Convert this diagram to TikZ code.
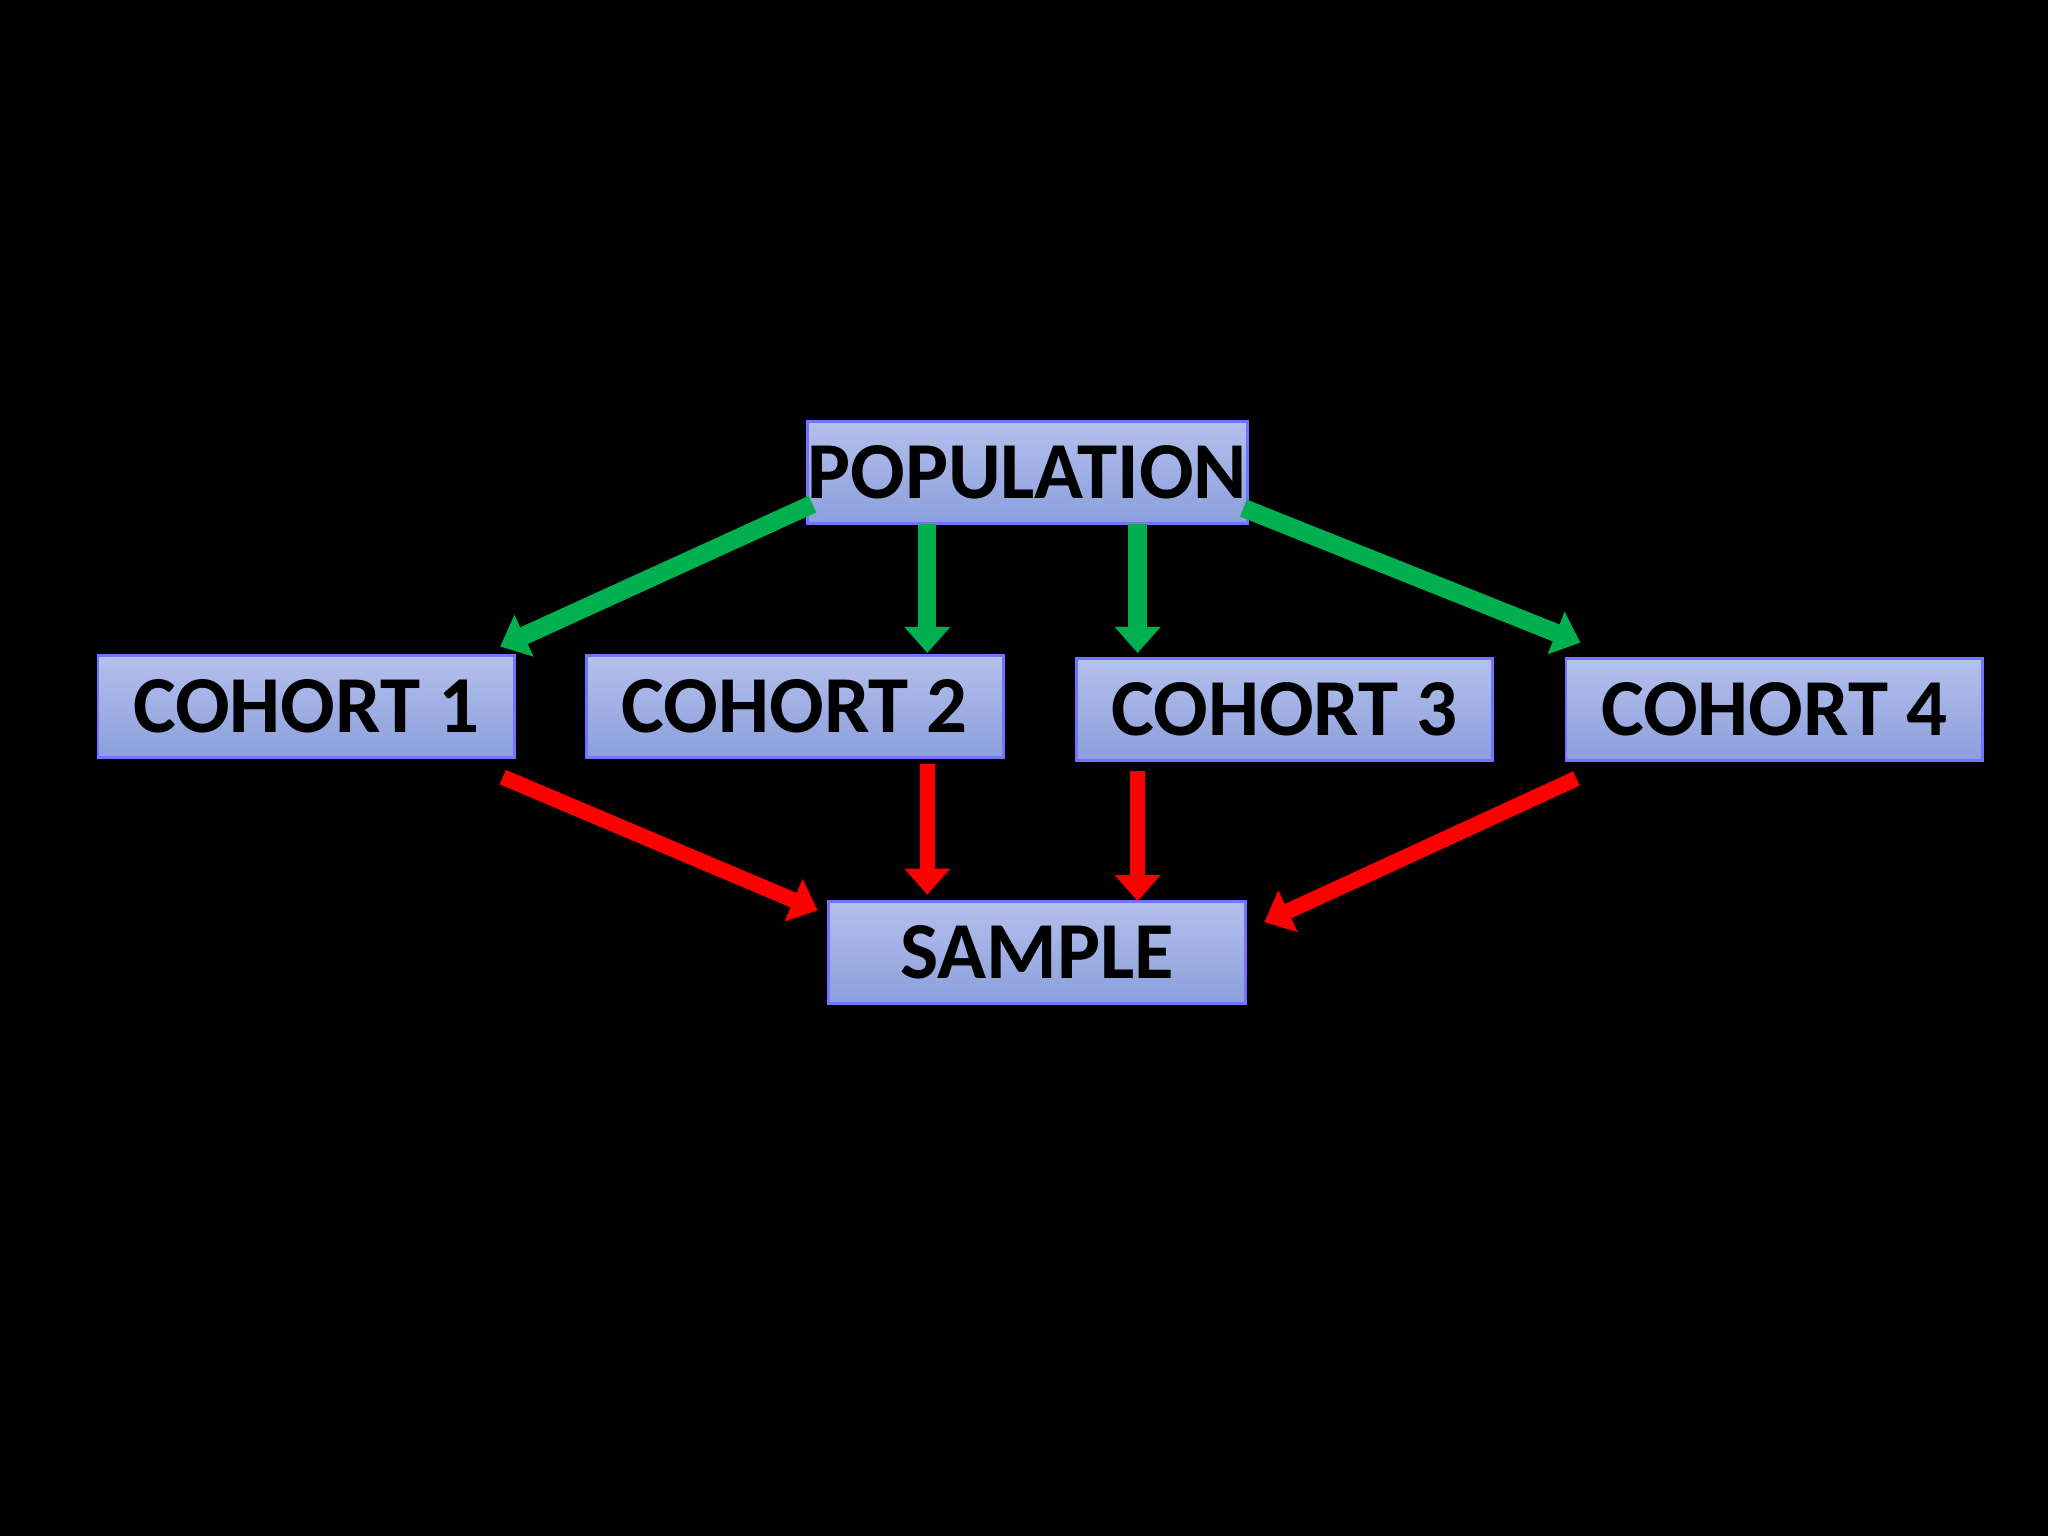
\documentclass[tikz,border=0pt]{standalone}
\usepackage{fontspec}
\setmainfont{Carlito}
\usetikzlibrary{arrows.meta}
\begin{document}
\begin{tikzpicture}[x=0.01306cm,y=-0.01306cm,
  box/.style={draw=blue!55!white,line width=0.8pt,top color=boxtop,bottom color=boxbot,minimum width=319*0.01306cm,minimum height=78*0.01306cm,inner sep=0pt,font=\fontsize{23}{26}\selectfont\bfseries,text=black},
  garr/.style={draw=arrgreen,line width=14*0.01306cm,-{Triangle[width=34*0.01306cm,length=20*0.01306cm]}},
  rarr/.style={draw=red,line width=12*0.01306cm,-{Triangle[width=34*0.01306cm,length=20*0.01306cm]}}]
\definecolor{boxtop}{HTML}{B4C0EC}
\definecolor{boxbot}{HTML}{8C9FDC}
\definecolor{arrgreen}{HTML}{00B050}
\fill[black] (0,0) rectangle (1568,1176);
\useasboundingbox (0,0) rectangle (1568,1176);
\node[box] (pop) at (786.5,361.5) {POPULATION};
\node[box] (c1) at (234.5,541) {COHORT 1};
\node[box] (c2) at (608.5,541) {COHORT 2};
\node[box] (c3) at (983.5,543) {COHORT 3};
\node[box] (c4) at (1358.5,543) {COHORT 4};
\node[box] (s) at (794,729) {SAMPLE};
\coordinate (p1) at (622,386); \coordinate (q1) at (383,495);
\coordinate (p2) at (710,401); \coordinate (q2) at (710,500);
\coordinate (p3) at (871,401); \coordinate (q3) at (871,500);
\coordinate (p4) at (952,389); \coordinate (q4) at (1210,492);
\draw[garr] (p1) -- (q1);
\draw[garr] (p2) -- (q2);
\draw[garr] (p3) -- (q3);
\draw[garr] (p4) -- (q4);
\coordinate (r1) at (385,595); \coordinate (t1) at (626,697);
\coordinate (r2) at (710,585); \coordinate (t2) at (710,685);
\coordinate (r3) at (871,590); \coordinate (t3) at (871,690);
\coordinate (r4) at (1207,596); \coordinate (t4) at (968,706);
\draw[rarr] (r1) -- (t1);
\draw[rarr] (r2) -- (t2);
\draw[rarr] (r3) -- (t3);
\draw[rarr] (r4) -- (t4);
\end{tikzpicture}
\end{document}
